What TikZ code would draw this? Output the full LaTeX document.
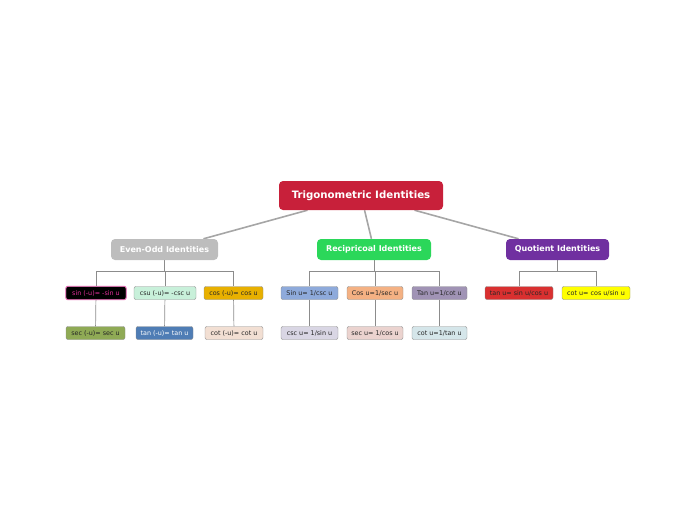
\documentclass[tikz,border=0pt]{standalone}
\usepackage{fontspec}
\setmainfont{DejaVu Sans}
\usetikzlibrary{positioning}

\definecolor{rootred}{HTML}{C8203A}
\definecolor{eogray}{HTML}{BDBDBD}
\definecolor{recgreen}{HTML}{2BD75A}
\definecolor{quopurple}{HTML}{7030A0}
\definecolor{linkgray}{HTML}{A6A6A6}
\definecolor{barcol}{HTML}{8C8C8C}
\definecolor{sinpink}{HTML}{E0309A}
\definecolor{csumint}{HTML}{C8F0DA}
\definecolor{cosgold}{HTML}{E8B000}
\definecolor{secolive}{HTML}{8FAA55}
\definecolor{tanblue}{HTML}{4F7DB5}
\definecolor{cotpeach}{HTML}{F2DFD3}
\definecolor{sinrblue}{HTML}{8EAADB}
\definecolor{cosrorange}{HTML}{F4B183}
\definecolor{tanrlilac}{HTML}{A093B5}
\definecolor{cscrgray}{HTML}{D9D6E4}
\definecolor{secrpink}{HTML}{EBD3CF}
\definecolor{cotrblue}{HTML}{D5E6EA}
\definecolor{tanqred}{HTML}{D93030}
\definecolor{cotqyellow}{HTML}{FFFF00}

\tikzstyle{topic}=[rounded corners=4pt,text=white,font=\bfseries\fontsize{8}{9}\selectfont,minimum height=21pt,inner sep=0pt]
\tikzstyle{leaf}=[draw=black!45,rounded corners=2pt,font=\fontsize{6.4}{7}\selectfont,text=black!85,minimum height=13pt,inner sep=0pt]
\tikzstyle{link}=[draw,linkgray,line width=1.6pt]
\tikzstyle{bar}=[draw,barcol,line width=0.7pt]
\pgfdeclarelayer{back}
\pgfsetlayers{back,main}

\begin{document}
\begin{tikzpicture}[x=1pt,y=-1pt]
    \useasboundingbox (0,0) rectangle (697,520);
    % the main topic and its three branches
    \node[topic,fill=rootred,minimum width=164pt,minimum height=29pt,font=\bfseries\fontsize{10.2}{11}\selectfont] (root) at (361,195.5) {Trigonometric Identities};
    \node[topic,fill=eogray,minimum width=107pt] (eo) at (164.5,249.5) {Even-Odd Identities};
    \node[topic,fill=recgreen,minimum width=114pt] (rec) at (374,249.5) {Recipricoal Identities};
    \node[topic,fill=quopurple,minimum width=103pt] (quo) at (557.5,249.5) {Quotient Identities};

    % the identities
    \foreach \pos/\name/\col/\txt/\w in {
        {(96,293)/eoa/black/{\textcolor{sinpink}{sin (-u)= -sin u}}/60},
        {(165,293)/eob/csumint/{csu (-u)= -csc u}/62},
        {(233.5,293)/eoc/cosgold/{cos (-u)= cos u}/59},
        {(95.5,333)/eod/secolive/{sec (-u)= sec u}/59},
        {(164.5,333)/eoe/tanblue/{\textcolor{white}{tan (-u)= tan u}}/57},
        {(234,333)/eof/cotpeach/{cot (-u)= cot u}/58},
        {(309.5,293)/reca/sinrblue/{Sin u= 1/csc u}/57},
        {(375,293)/recb/cosrorange/{Cos u=1/sec u}/56},
        {(439.5,293)/recc/tanrlilac/{Tan u=1/cot u}/55},
        {(309.5,333)/recd/cscrgray/{csc u= 1/sin u}/57},
        {(375,333)/rece/secrpink/{sec u= 1/cos u}/56},
        {(439.5,333)/recf/cotrblue/{cot u=1/tan u}/55},
        {(519,293)/quoa/tanqred/{tan u= sin u/cos u}/68},
        {(596,293)/quob/cotqyellow/{cot u= cos u/sin u}/68}}
        \node[leaf,fill=\col,minimum width=\w pt] (\name) at \pos {\txt};
    \path[draw=sinpink!80,line width=0.8pt,rounded corners=2pt] (eoa.south west) rectangle (eoa.north east);

    % connectors behind the nodes
    \coordinate (eobar) at (164.5,271);
    \coordinate (recbar) at (374,271);
    \coordinate (quobar) at (557.5,271);
    \begin{pgfonlayer}{back}
        \foreach \dest in {eo,rec,quo}
            \path[link] (root) -- (\dest);
        \foreach \head/\first/\rest in {eo/eoa/{eob,eoc},rec/reca/{recb,recc},quo/quoa/{quob}} {
            \path[bar] (\head.south) -- (\head bar);
            \path[bar] (\head bar) -| (\first.north);
            \foreach \kid in \rest
                \path[bar] (\head bar) -| (\kid.north);
        }
        \foreach \source/\dest in {eoa/eod,eob/eoe,eoc/eof,reca/recd,recb/rece,recc/recf}
            \path[bar] (\source) -- (\dest);
    \end{pgfonlayer}
\end{tikzpicture}
\end{document}
